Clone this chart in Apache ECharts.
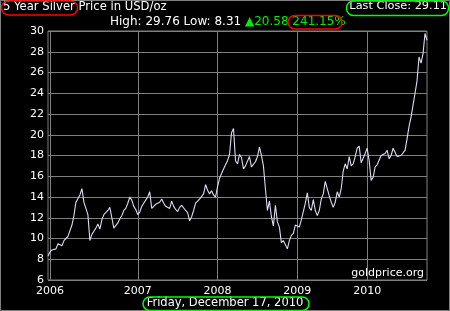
<!DOCTYPE html>
<html><head><meta charset="utf-8">
<script src="https://cdn.jsdelivr.net/npm/echarts@6/dist/echarts.min.js"></script>
<style>html,body{margin:0;padding:0;background:#000}#c{width:450px;height:311px}</style>
</head><body><div id="c"></div>
<script>
// Silver price (USD/oz), sampled along the 5-year span
const prices = [
8.31,8.7,8.9,9.0,9.0,9.5,9.4,9.3,9.8,10.0,
10.2,10.3,11.3,12.2,13.5,13.6,14.2,14.8,13.5,12.9,
12.3,9.8,10.4,10.7,11.0,11.4,10.9,11.8,12.3,12.2,
12.7,13.0,12.0,11.0,11.1,11.5,11.9,12.2,12.7,12.9,
13.4,14.0,13.7,13.1,12.8,12.3,12.55,13.1,13.4,13.7,
14.0,14.5,12.9,13.0,13.3,13.35,13.5,13.8,13.4,13.1,
13.1,12.9,13.6,13.1,12.8,12.6,13.0,13.2,13.1,12.7,
12.5,11.7,12.1,12.7,13.4,13.5,13.8,13.85,14.3,15.2,
14.65,14.3,14.6,14.2,14.0,15.0,15.8,15.9,16.7,17.1,
17.5,18.1,20.2,20.6,17.5,17.2,18.1,17.8,16.7,17.0,
16.9,17.9,16.9,16.9,17.4,17.9,18.8,18.0,17.0,14.8,
12.7,13.6,12.1,11.2,13.2,11.6,11.1,9.6,9.8,9.7,
9.0,9.8,10.3,10.5,11.3,11.2,11.1,11.8,12.6,13.4,
14.4,13.0,12.7,13.75,12.7,12.2,12.7,13.8,14.3,15.5,
14.8,14.1,13.5,13.0,13.5,14.5,14.0,14.8,16.5,17.2,
16.7,17.9,17.0,17.2,17.9,18.7,18.9,17.3,17.2,18.2,
18.7,17.5,15.6,15.9,16.9,17.1,17.2,18.0,18.0,18.2,
18.5,17.7,18.0,18.7,18.6,17.9,17.8,18.0,18.0,18.5,
19.6,20.8,21.7,22.85,24.0,25.2,27.5,26.9,27.8,29.76,
29.11
];
const yearLabels = ['2006','2007','2008','2009','2010'];
const yearIndex = [1,45,85,125,160];
const yMin = 6, yMax = 30, yStep = 2;
const titleText = '5 Year Silver Price in USD/oz';
const lastClose = '29.11';
const high = '29.76', low = '8.31', change = '20.58', pct = '241.15%';
const dateText = 'Friday, December 17, 2010';
const watermark = 'goldprice.org';

const categories = prices.map((_, i) => String(i));
const isYear = (i) => yearIndex.indexOf(i) >= 0;
const FONT = 'DejaVu Sans';

const chart = echarts.init(document.getElementById('c'), null, {renderer:'canvas'});
chart.setOption({
  backgroundColor:'#000',
  animation:false,
  textStyle:{fontFamily:FONT},
  grid:{left:48,right:23,top:31,bottom:31,show:true,borderColor:'#808080',borderWidth:1,backgroundColor:'transparent'},
  xAxis:{
    type:'category', data:categories, boundaryGap:false,
    axisLine:{show:false}, axisTick:{show:false},
    axisLabel:{interval:(i)=>isYear(i), formatter:(v,i)=>{const k=yearIndex.indexOf(Number(v));return k>=0?yearLabels[k]:'';},
      color:'#fff', fontFamily:FONT, fontSize:11, margin:6},
    splitLine:{show:true, interval:(i)=>isYear(i), lineStyle:{color:'#808080',width:1}}
  },
  yAxis:{
    type:'value', min:yMin, max:yMax, interval:yStep,
    axisLine:{show:false}, axisTick:{show:false},
    axisLabel:{color:'#fff', fontFamily:FONT, fontSize:11, margin:4},
    splitLine:{show:true, lineStyle:{color:'#808080',width:1}}
  },
  series:[{type:'line', data:prices, showSymbol:false, symbol:'none',
    lineStyle:{color:'#dcdcf0', width:1.1}}],
  graphic:[
    {type:'rect', shape:{x:0.5,y:0.5,width:449,height:310}, style:{fill:'none',stroke:'#808080',lineWidth:1}, silent:true, z:-1},
    {type:'text', left:3, top:1, style:{text:titleText, fill:'#fff', font:'11.6px "DejaVu Sans"'}},
    {type:'text', right:3, top:1, style:{text:'Last Close: '+lastClose, fill:'#fff', font:'11.3px "DejaVu Sans"'}},
    {type:'text', left:110, top:16, style:{
      text:'{w|High: '+high+' Low: '+low+' }{g|▲'+change+' }{g|'+pct+'}',
      rich:{w:{fill:'#fff',font:'12px "DejaVu Sans"'}, g:{fill:'#00ee00',font:'12px "DejaVu Sans"'}}}},
    {type:'text', right:26, top:268, style:{text:watermark, fill:'#fff', font:'11px "DejaVu Sans"'}},
    {type:'text', left:'center', top:297, style:{text:dateText, fill:'#fff', font:'11.5px "DejaVu Sans"'}},
    {type:'rect', shape:{x:1.5,y:1,width:76,height:14,r:7}, style:{fill:'none',stroke:'#ff0000',lineWidth:1.5}},
    {type:'rect', shape:{x:346.5,y:1,width:102,height:14.5,r:7}, style:{fill:'none',stroke:'#00ff00',lineWidth:1.5}},
    {type:'rect', shape:{x:288,y:15.5,width:54,height:13.5,r:7}, style:{fill:'none',stroke:'#ff0000',lineWidth:1.5}},
    {type:'rect', shape:{x:143,y:297,width:166,height:13.5,r:7}, style:{fill:'none',stroke:'#00ff00',lineWidth:1.5}}
  ]
});
</script></body></html>
